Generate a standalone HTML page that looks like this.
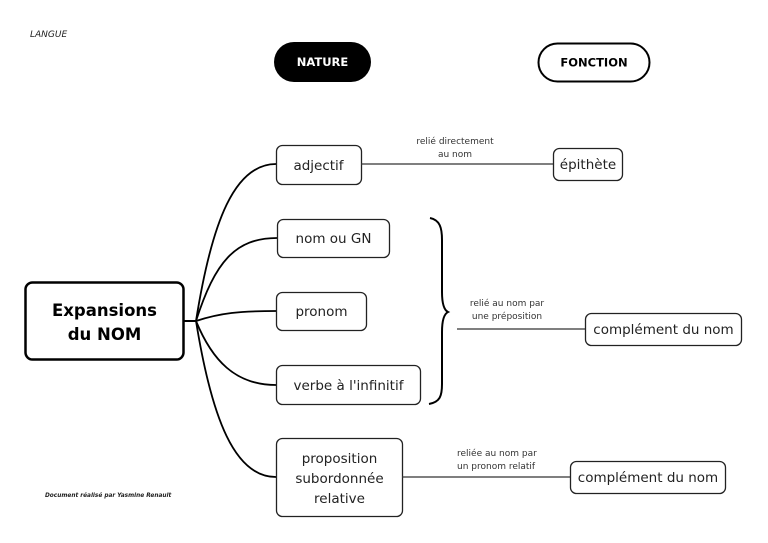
<!DOCTYPE html>
<html><head><meta charset="utf-8"><style>
html,body{margin:0;padding:0;background:#fff;}
svg{display:block;font-family:"DejaVu Sans","Liberation Sans",sans-serif;}
</style></head><body>
<svg width="768" height="543" viewBox="0 0 768 543" xmlns="http://www.w3.org/2000/svg">
<rect width="768" height="543" fill="#fff"/>
<text x="30" y="37" font-size="9" font-style="italic" fill="#222">LANGUE</text>
<rect x="274" y="42" width="97" height="40" rx="20" fill="#000"/>
<text x="322.5" y="66" font-size="11.5" font-weight="bold" fill="#fff" text-anchor="middle">NATURE</text>
<rect x="538.5" y="43.5" width="111" height="38" rx="19" fill="#fff" stroke="#000" stroke-width="2"/>
<text x="594" y="66.5" font-size="11.5" font-weight="bold" fill="#000" text-anchor="middle">FONCTION</text>

<g fill="none" stroke="#000" stroke-width="2">
<path d="M184,321 H196"/>
<path d="M196,321 C212,220 235,164 276,164" stroke-width="1.8"/>
<path d="M196,321 C215,262 235,238 277,238" stroke-width="1.8"/>
<path d="M196,321 C220,313 240,311 276,311" stroke-width="1.8"/>
<path d="M196,321 C212,360 235,385 276,385" stroke-width="1.8"/>
<path d="M196,321 C212,420 235,477 276,477" stroke-width="1.8"/>
</g>
<g fill="#fff" stroke="#222" stroke-width="1.3">
<rect x="25.5" y="282.5" width="158" height="77" rx="7" stroke="#000" stroke-width="2.5"/>
<rect x="276.5" y="145.5" width="85" height="39" rx="6"/>
<rect x="277.5" y="219.5" width="112" height="38" rx="6"/>
<rect x="276.5" y="292.5" width="90" height="38" rx="6"/>
<rect x="276.5" y="365.5" width="144" height="39" rx="6"/>
<rect x="276.5" y="438.5" width="126" height="78" rx="6"/>
<rect x="553.5" y="148.5" width="69" height="32" rx="6"/>
<rect x="585.5" y="313.5" width="156" height="32" rx="6"/>
<rect x="570.5" y="461.5" width="155" height="32" rx="6"/>
</g>
<text x="104.5" y="316" font-size="16.5" font-weight="bold" text-anchor="middle">Expansions</text>
<text x="104.5" y="340" font-size="16.5" font-weight="bold" text-anchor="middle">du NOM</text>
<g font-size="13.5" fill="#222" text-anchor="middle">
<text x="318.5" y="170">adjectif</text>
<text x="333.5" y="243">nom ou GN</text>
<text x="321.5" y="316">pronom</text>
<text x="348.5" y="390">verbe à l'infinitif</text>
<text x="339.5" y="463">proposition</text>
<text x="339.5" y="483">subordonnée</text>
<text x="339.5" y="503">relative</text>
<text x="588" y="169">épithète</text>
<text x="663.5" y="334">complément du nom</text>
<text x="648" y="482">complément du nom</text>
</g>
<g stroke="#333" stroke-width="1.2" fill="none">
<path d="M361,164 H553"/>
<path d="M457,329 H585"/>
<path d="M402,477 H570"/>
</g>
<path d="M430,218 C440,220 442,228 442,240 L442,292 C442,304 444,310 448,312 C444,314 442,320 442,332 L442,384 C442,396 440,402 429,404" fill="none" stroke="#000" stroke-width="2"/>
<g font-size="9" fill="#333" text-anchor="middle">
<text x="455" y="144">relié directement</text>
<text x="455" y="157">au nom</text>
<text x="507" y="306">relié au nom par</text>
<text x="507" y="319">une préposition</text>
</g>
<g font-size="9" fill="#333">
<text x="457" y="456">reliée au nom par</text>
<text x="457" y="469">un pronom relatif</text>
</g>
<text x="45" y="497" font-size="5.8" font-style="italic" font-weight="bold" fill="#222">Document réalisé par Yasmine Renault</text>
</svg>
</body></html>
